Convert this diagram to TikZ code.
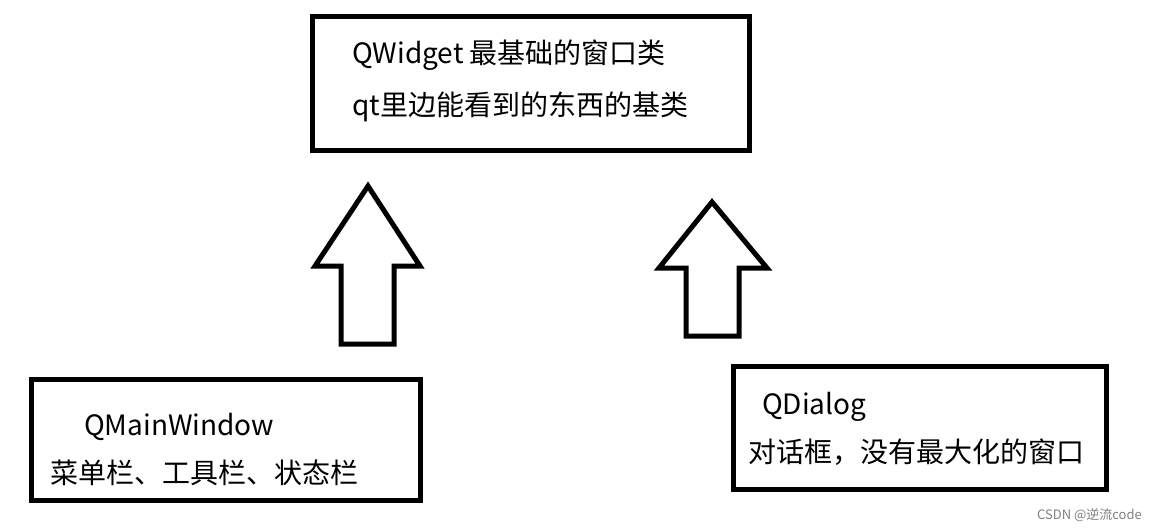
\documentclass[tikz,border=0pt]{standalone}
\usepackage{fontspec}
\setmainfont{Noto Sans CJK SC}
\begin{document}
\begin{tikzpicture}[x=1pt,y=-1pt,
  box/.style={draw=black,line width=5pt},
  txt/.style={anchor=west,font=\fontsize{28}{32}\selectfont,inner sep=0pt},
  blockarrow/.style={draw=black,line width=5pt,line join=miter,fill=white}]
\useasboundingbox[fill=white] (0,0) rectangle (1156,531);
\draw[box] (312,16) rectangle (749,150);
\node[txt] (t1) at (352,55) {QWidget 最基础的窗口类};
\node[txt] (t2) at (352,107) {qt里边能看到的东西的基类};
\draw[blockarrow] (368,186) -- (420,266) -- (394,266) -- (394,344) -- (341,344) -- (341,266) -- (315,266) -- cycle;
\draw[blockarrow] (712,202) -- (767,268) -- (739,268) -- (739,336) -- (686,336) -- (686,268) -- (659,268) -- cycle;
\draw[box] (31,379) rectangle (420,500);
\node[txt] (m1) at (84,427) {QMainWindow};
\node[txt] (m2) at (50,473) {菜单栏、工具栏、状态栏};
\draw[box] (733,366) rectangle (1106,489);
\node[txt] (d1) at (762,407) {QDialog};
\node[txt] (d2) at (748,452) {对话框，没有最大化的窗口};
\node[anchor=east,inner sep=0pt,text=gray,font=\fontsize{13}{15}\selectfont] (wm) at (1142,515) {CSDN @逆流code};
\end{tikzpicture}
\end{document}
